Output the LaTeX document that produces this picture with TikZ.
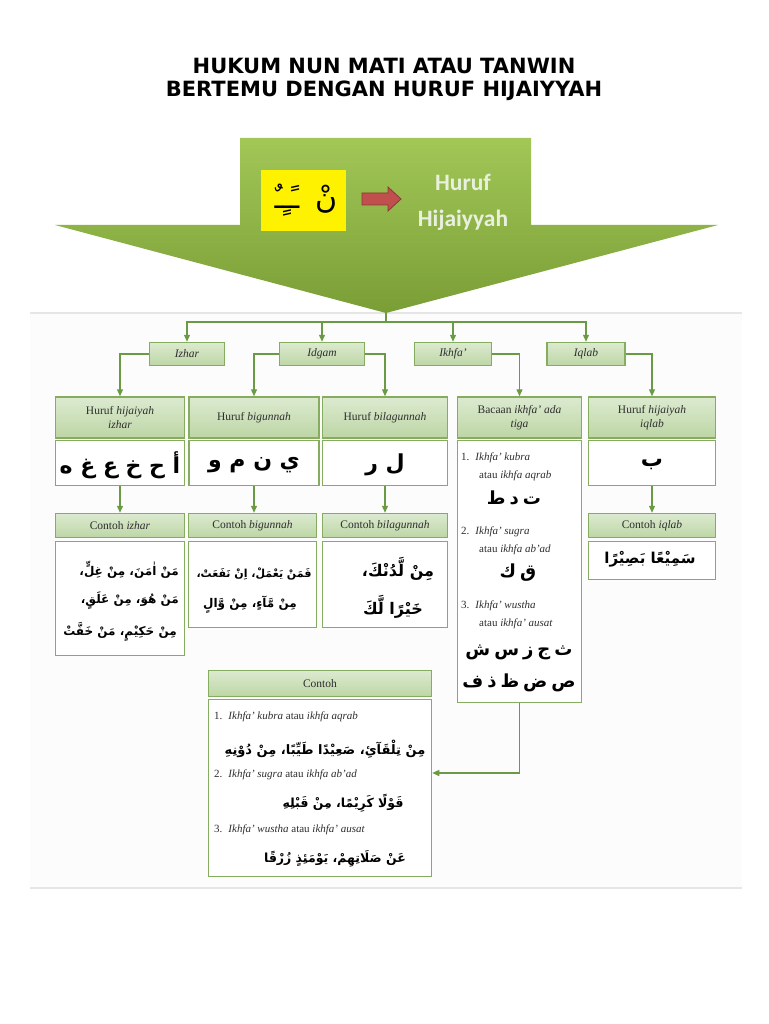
\documentclass[tikz,border=0pt]{standalone}
\usepackage{fontspec}
\setmainfont{Liberation Serif}
\newfontfamily\titlefont{DejaVu Sans}
\newfontfamily\calib{Carlito}
\newfontfamily\ar[Script=Arabic]{DejaVu Sans}
\TeXXeTstate=1
\usetikzlibrary{arrows.meta}
\definecolor{grnb}{HTML}{86AD5F}
\definecolor{hdrT}{HTML}{DCEAD0}
\definecolor{hdrB}{HTML}{BDD6A5}
\definecolor{cnn}{HTML}{6A9A43}
\definecolor{txt}{HTML}{2E2E2E}
\definecolor{arrT}{HTML}{A2C757}
\definecolor{arrB}{HTML}{7A9E36}
\definecolor{redF}{HTML}{C0504D}
\definecolor{redD}{HTML}{8C3836}
\definecolor{hurufC}{HTML}{E9F0DE}
\definecolor{bgline}{HTML}{E6E6E6}
\definecolor{bgfill}{HTML}{FCFCFC}
\newcommand\gp{\hspace{4pt}}
\tikzset{
  hdr/.style={draw=grnb, line width=1.5pt, top color=hdrT, bottom color=hdrB,
    inner sep=1pt, align=center, text=txt, font=\fontsize{11.5}{14}\selectfont},
  bodyb/.style={draw=grnb, line width=1.5pt, fill=white, inner sep=0pt},
  conn/.style={draw=cnn, line width=1.3pt, -{Triangle[length=7pt,width=6pt]}},
  lnk/.style={draw=cnn, line width=1.3pt},
  artxt/.style={text=black, inner sep=0pt, font=\ar\bfseries\fontsize{12}{14}\selectfont},
  arbig/.style={text=black, inner sep=0pt, font=\ar\bfseries\fontsize{22}{24}\selectfont},
  armid/.style={text=black, inner sep=0pt, font=\ar\bfseries\fontsize{18}{20}\selectfont},
  lat/.style={text=txt, inner sep=0pt, anchor=base west, font=\fontsize{11}{13}\selectfont},
}
\begin{document}
\begin{tikzpicture}[x=1pt,y=-1pt]
\useasboundingbox (0,0) rectangle (768,1024);
\fill[white] (0,0) rectangle (768,1024);
% faint background band
\fill[bgfill] (30,313) rectangle (742,888);
\draw[bgline, line width=2pt] (30,313) -- (742,313);
\draw[bgline, line width=2pt] (30,888) -- (742,888);

% title
\node[anchor=base, inner sep=0pt, font=\titlefont\bfseries\fontsize{21}{24}\selectfont] (title1) at (384,74) {HUKUM NUN MATI ATAU TANWIN};
\node[anchor=base, inner sep=0pt, font=\titlefont\bfseries\fontsize{21}{24}\selectfont] (title2) at (384,97) {BERTEMU DENGAN HURUF HIJAIYYAH};

% big arrow
\shade[top color=arrT, bottom color=arrB]
  (240,138) -- (531,138) -- (531,225) -- (718,225) -- (386,313) -- (55,225) -- (240,225) -- cycle;
\node[fill=yellow, minimum width=85pt, minimum height=61pt, inner sep=0pt] (ybox) at (303.5,201) {};
\node[text=black, inner sep=0pt, font=\ar\fontsize{30}{32}\selectfont] (nun) at (327,199) {\beginR نْ\endR};
\node[text=black, inner sep=0pt, font=\ar\fontsize{28}{30}\selectfont] (tanwin) at (287,200) {\beginR ـًـٍـٌ\endR};
\draw[fill=redF, draw=redD, line width=0.8pt]
  (362,193) -- (388,193) -- (388,187) -- (401,199) -- (388,211) -- (388,205) -- (362,205) -- cycle;
\node[anchor=base, inner sep=0pt, text=hurufC, font=\calib\bfseries\fontsize{23.5}{25}\selectfont] (huruf1) at (463,191) {Huruf};
\node[anchor=base, inner sep=0pt, text=hurufC, font=\calib\bfseries\fontsize{23.5}{25}\selectfont] (huruf2) at (463,226) {Hijaiyyah};
\coordinate (tip) at (386,313);
\coordinate (bus) at (386,322);

% level 1 labels
\node[hdr, minimum width=75pt, minimum height=23pt] (izhar) at (187,354) {\textit{Izhar}};
\node[hdr, minimum width=85pt, minimum height=23pt] (idgam) at (322,354) {\textit{Idgam}};
\node[hdr, minimum width=77pt, minimum height=23pt] (ikhfa) at (453,354) {\textit{Ikhfa'}};
\node[hdr, minimum width=78pt, minimum height=23pt] (iqlab) at (586,354) {\textit{Iqlab}};

% level 2 headers
\node[hdr, minimum width=129pt, minimum height=41pt] (hA) at (120,417.5) {Huruf \textit{hijaiyah}\\\textit{izhar}};
\node[hdr, minimum width=130pt, minimum height=41pt] (hB) at (254,417.5) {Huruf \textit{bigunnah}};
\node[hdr, minimum width=125pt, minimum height=41pt] (hC) at (385,417.5) {Huruf \textit{bilagunnah}};
\node[hdr, minimum width=124pt, minimum height=41pt] (hD) at (519.5,417.5) {Bacaan \textit{ikhfa' ada}\\\textit{tiga}};
\node[hdr, minimum width=127pt, minimum height=41pt] (hE) at (652,417.5) {Huruf \textit{hijaiyah}\\\textit{iqlab}};

% letter boxes
\node[bodyb, minimum width=129pt, minimum height=45pt] (lA) at (120,463) {};
\node[arbig] (tA) at (120,465) {\beginR أ ح خ ع غ ه\endR};
\node[bodyb, minimum width=130pt, minimum height=45pt] (lB) at (254,463) {};
\node[arbig] (tB) at (254,465) {\beginR ي ن م و\endR};
\node[bodyb, minimum width=125pt, minimum height=45pt] (lC) at (385,463) {};
\node[arbig] (tC) at (385,465) {\beginR ل ر\endR};
\node[bodyb, minimum width=127pt, minimum height=45pt] (lE) at (652,463) {};
\node[arbig] (tE) at (652,465) {\beginR ب\endR};

% ikhfa long box
\node[bodyb, minimum width=124pt, minimum height=262pt] (bD) at (519.5,571.5) {};
\node[lat] (d1a) at (461,460) {1.\hspace{6pt}\textit{Ikhfa' kubra}};
\node[lat] (d1b) at (479,478) {atau \textit{ikhfa aqrab}};
\node[armid] (d1c) at (514,498) {\beginR ت\gp د\gp ط\endR};
\node[lat] (d2a) at (461,534) {2.\hspace{6pt}\textit{Ikhfa' sugra}};
\node[lat] (d2b) at (479,552) {atau \textit{ikhfa ab'ad}};
\node[armid] (d2c) at (518,573) {\beginR ق\gp ك\endR};
\node[lat] (d3a) at (461,608) {3.\hspace{6pt}\textit{Ikhfa' wustha}};
\node[lat] (d3b) at (479,626) {atau \textit{ikhfa' ausat}};
\node[armid] (d3c) at (519,652) {\beginR ث\gp ج\gp ز\gp س\gp ش\endR};
\node[armid] (d3d) at (519,683) {\beginR ص\gp ض\gp ظ\gp ذ\gp ف\endR};

% contoh headers
\node[hdr, minimum width=129pt, minimum height=24pt] (cA) at (120,525.5) {Contoh \textit{izhar}};
\node[hdr, minimum width=128pt, minimum height=24pt] (cB) at (252.5,525.5) {Contoh \textit{bigunnah}};
\node[hdr, minimum width=125pt, minimum height=24pt] (cC) at (385,525.5) {Contoh \textit{bilagunnah}};
\node[hdr, minimum width=127pt, minimum height=24pt] (cE) at (652,525.5) {Contoh \textit{iqlab}};

% examples
\node[bodyb, minimum width=129pt, minimum height=114pt] (eA) at (120,598.5) {};
\node[artxt, anchor=east] (eA1) at (179,570) {\beginR مَنْ اٰمَنَ، مِنْ غِلٍّ،\endR};
\node[artxt, anchor=east] (eA2) at (179,601) {\beginR مَنْ هُوَ، مِنْ عَلَقٍ،\endR};
\node[artxt] (eA3) at (120,632) {\beginR مِنْ حَكِيْمٍ، مَنْ خَفَّتْ\endR};
\node[bodyb, minimum width=128pt, minimum height=86pt] (eB) at (252.5,584.5) {};
\node[artxt, font=\ar\bfseries\fontsize{11}{13}\selectfont] (eB1) at (254,574) {\beginR فَمَنْ يَعْمَلْ، اِنْ نَفَعَتْ،\endR};
\node[artxt] (eB2) at (250,605) {\beginR مِنْ مَّآءٍ، مِنْ وَّالٍ\endR};
\node[bodyb, minimum width=125pt, minimum height=86pt] (eC) at (385,584.5) {};
\node[artxt, font=\ar\bfseries\fontsize{16}{18}\selectfont] (eC1) at (398,569) {\beginR مِنْ لَّدُنْكَ،\endR};
\node[artxt, font=\ar\bfseries\fontsize{16}{18}\selectfont] (eC2) at (393,607) {\beginR خَيْرًا لَّكَ\endR};
\node[bodyb, minimum width=127pt, minimum height=38pt] (eE) at (652,560.5) {};
\node[artxt, font=\ar\bfseries\fontsize{15}{17}\selectfont] (eE1) at (650,559) {\beginR سَمِيْعًا بَصِيْرًا\endR};

% bottom contoh box
\node[hdr, minimum width=223pt, minimum height=26pt] (ch) at (320,683.5) {Contoh};
\node[bodyb, minimum width=223pt, minimum height=177pt] (cbody) at (320,788) {};
\node[lat] (k1) at (214,719) {1.\hspace{6pt}\textit{Ikhfa' kubra} atau \textit{ikhfa aqrab}};
\node[artxt, font=\ar\bfseries\fontsize{13}{15}\selectfont] (k1a) at (325,749) {\beginR مِنْ تِلْقَآئِ، صَعِيْدًا طَيِّبًا، مِنْ دُوْنِهِ\endR};
\node[lat] (k2) at (214,777) {2.\hspace{6pt}\textit{Ikhfa' sugra} atau \textit{ikhfa ab'ad}};
\node[artxt, font=\ar\bfseries\fontsize{12.5}{15}\selectfont] (k2a) at (343,803) {\beginR قَوْلًا كَرِيْمًا، مِنْ قَبْلِهِ\endR};
\node[lat] (k3) at (214,832) {3.\hspace{6pt}\textit{Ikhfa' wustha} atau \textit{ikhfa' ausat}};
\node[artxt, font=\ar\bfseries\fontsize{12.5}{15}\selectfont] (k3a) at (335,859) {\beginR عَنْ صَلَاتِهِمْ، يَوْمَئِذٍ زُرْقًا\endR};

% connectors
\draw[lnk] (tip) -- (bus);
\draw[conn] (bus) -| (izhar.north);
\draw[conn] (bus) -| (idgam.north);
\draw[conn] (bus) -| (ikhfa.north);
\draw[conn] (bus) -| (iqlab.north);
\draw[conn] (izhar.west) -| (hA.north);
\draw[conn] (idgam.west) -| (hB.north);
\draw[conn] (idgam.east) -| (hC.north);
\draw[conn] (ikhfa.east) -| (hD.north);
\draw[conn] (iqlab.east) -| (hE.north);
\draw[conn] (lA.south) -- (cA.north);
\draw[conn] (lB.south) -- (cB.north -| lB.south);
\draw[conn] (lC.south) -- (cC.north);
\draw[conn] (lE.south) -- (cE.north);
\draw[conn] (bD.south) |- ([yshift=15pt]cbody.east);
\end{tikzpicture}
\end{document}
